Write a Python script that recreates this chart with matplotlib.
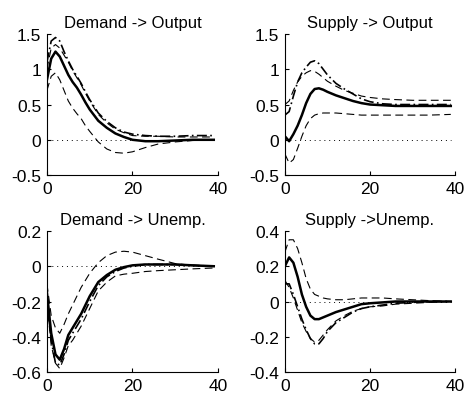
import matplotlib
matplotlib.use("Agg")
import matplotlib.pyplot as plt

plt.rcParams['font.family'] = ['Liberation Sans', 'DejaVu Sans']

# horizon (quarters) at which values were read
t = [0, 1, 2, 3, 4, 5, 6, 7, 8, 9, 10, 12, 14, 16, 18, 20, 23, 26, 30, 34, 39]

# Demand -> Output
do_est = [0.85, 1.15, 1.25, 1.18, 1.05, 0.92, 0.82, 0.74, 0.64, 0.53, 0.43, 0.27, 0.17, 0.09, 0.04, 0.0, -0.02, -0.02, -0.01, 0.0, 0.0]
do_med = [1.1, 1.4, 1.45, 1.4, 1.25, 1.12, 1.0, 0.9, 0.8, 0.68, 0.57, 0.38, 0.26, 0.17, 0.11, 0.08, 0.06, 0.05, 0.05, 0.06, 0.06]
do_hi = [1.0, 1.3, 1.35, 1.3, 1.2, 1.1, 0.98, 0.88, 0.78, 0.66, 0.55, 0.36, 0.24, 0.15, 0.1, 0.06, 0.05, 0.05, 0.04, 0.04, 0.04]
do_lo = [0.7, 0.9, 0.95, 0.85, 0.7, 0.55, 0.45, 0.37, 0.3, 0.2, 0.12, -0.03, -0.13, -0.18, -0.19, -0.17, -0.11, -0.06, -0.03, -0.01, 0.0]

# Supply -> Output
so_est = [0.05, -0.02, 0.08, 0.2, 0.35, 0.52, 0.65, 0.72, 0.73, 0.71, 0.68, 0.63, 0.59, 0.55, 0.52, 0.5, 0.49, 0.48, 0.48, 0.48, 0.48]
so_med = [0.35, 0.4, 0.62, 0.82, 0.95, 1.03, 1.1, 1.12, 1.08, 1.0, 0.92, 0.8, 0.72, 0.65, 0.58, 0.54, 0.51, 0.5, 0.5, 0.5, 0.5]
so_hi = [0.5, 0.55, 0.7, 0.82, 0.9, 0.95, 0.98, 0.97, 0.93, 0.88, 0.83, 0.76, 0.7, 0.66, 0.62, 0.6, 0.58, 0.57, 0.56, 0.56, 0.56]
so_lo = [-0.2, -0.33, -0.28, -0.12, 0.05, 0.2, 0.3, 0.35, 0.37, 0.38, 0.38, 0.38, 0.37, 0.36, 0.35, 0.35, 0.35, 0.35, 0.35, 0.35, 0.36]

# Demand -> Unemp.
du_est = [-0.15, -0.38, -0.5, -0.53, -0.47, -0.39, -0.35, -0.31, -0.27, -0.22, -0.17, -0.09, -0.05, -0.02, -0.005, 0.005, 0.01, 0.01, 0.01, 0.005, 0.0]
du_med = [-0.18, -0.42, -0.55, -0.56, -0.5, -0.42, -0.38, -0.34, -0.3, -0.25, -0.2, -0.11, -0.06, -0.03, -0.01, 0.0, 0.01, 0.01, 0.01, 0.005, 0.0]
du_hi = [-0.1, -0.28, -0.35, -0.38, -0.33, -0.27, -0.22, -0.17, -0.12, -0.08, -0.04, 0.02, 0.06, 0.08, 0.085, 0.08, 0.06, 0.04, 0.015, 0.005, 0.0]
du_lo = [-0.2, -0.45, -0.55, -0.58, -0.52, -0.45, -0.42, -0.38, -0.34, -0.29, -0.24, -0.14, -0.09, -0.055, -0.045, -0.04, -0.03, -0.025, -0.02, -0.015, -0.01]

# Supply -> Unemp.
su_est = [0.2, 0.25, 0.22, 0.14, 0.04, -0.03, -0.08, -0.1, -0.1, -0.09, -0.08, -0.06, -0.045, -0.03, -0.015, -0.01, -0.005, 0.0, 0.0, 0.0, 0.0]
su_med = [0.1, 0.1, 0.04, -0.03, -0.1, -0.16, -0.21, -0.24, -0.24, -0.21, -0.17, -0.12, -0.09, -0.06, -0.04, -0.03, -0.02, -0.01, -0.005, 0.0, 0.0]
su_hi = [0.28, 0.35, 0.35, 0.3, 0.22, 0.13, 0.07, 0.04, 0.03, 0.02, 0.015, 0.01, 0.01, 0.015, 0.02, 0.02, 0.02, 0.015, 0.01, 0.005, 0.0]
su_lo = [0.12, 0.08, 0.02, -0.05, -0.12, -0.17, -0.21, -0.23, -0.22, -0.19, -0.16, -0.11, -0.08, -0.055, -0.04, -0.03, -0.025, -0.015, -0.01, -0.005, 0.0]

titles = ["Demand -> Output", "Supply -> Output", "Demand -> Unemp.", "Supply ->Unemp."]
ylims = [(-0.5, 1.5), (-0.5, 1.5), (-0.6, 0.2), (-0.4, 0.4)]
yticks = [[-0.5, 0, 0.5, 1, 1.5], [-0.5, 0, 0.5, 1, 1.5],
          [-0.6, -0.4, -0.2, 0, 0.2], [-0.4, -0.2, 0, 0.2, 0.4]]
panels = [(do_est, do_med, do_hi, do_lo), (so_est, so_med, so_hi, so_lo),
          (du_est, du_med, du_hi, du_lo), (su_est, su_med, su_hi, su_lo)]

# axes boxes in figure fractions [left, bottom, width, height]
boxes = [[0.099, 0.562, 0.361, 0.351], [0.601, 0.562, 0.359, 0.351],
         [0.099, 0.072, 0.361, 0.351], [0.601, 0.072, 0.359, 0.351]]

fig = plt.figure(figsize=(4.74, 4.02), dpi=100)
for i in range(4):
    ax = fig.add_axes(boxes[i])
    est, med, hi, lo = panels[i]
    ax.plot([0, 39], [0, 0], color='k', linestyle=(0, (1, 4)), linewidth=0.7)
    ax.plot(t, hi, color='k', linestyle=(0, (7, 4)), linewidth=0.8)
    ax.plot(t, lo, color='k', linestyle=(0, (7, 4)), linewidth=0.8)
    ax.plot(t, med, color='k', linestyle=(0, (6, 2, 1, 2)), linewidth=1.2)
    ax.plot(t, est, color='k', linestyle='-', linewidth=1.8)
    ax.set_xlim(0, 40)
    ax.set_ylim(*ylims[i])
    ax.set_xticks([0, 20, 40])
    ax.set_yticks(yticks[i])
    ax.set_yticklabels(["%g" % v for v in yticks[i]])
    ax.spines['top'].set_visible(False)
    ax.spines['right'].set_visible(False)
    ax.tick_params(direction='in', length=3, labelsize=12.5, pad=4)
    ax.set_title(titles[i], fontsize=12, pad=5)

fig.savefig("out.png", dpi=100)
